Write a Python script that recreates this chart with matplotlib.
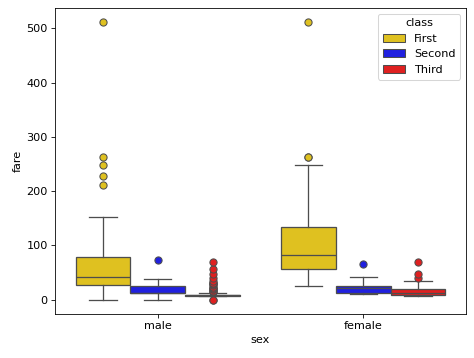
import matplotlib
matplotlib.use("Agg")
import matplotlib.pyplot as plt
from matplotlib.patches import Patch

# categories and hue levels
sexes = ["male", "female"]
classes = ["First", "Second", "Third"]
colors = ["#dfc120", "#2020df", "#df2020"]

# box statistics per (sex, class): q1, median, q3, whisker low, whisker high
q1 = {"male": [27.7, 12.5, 7.75], "female": [57.5, 13.0, 7.85]}
med = {"male": [41.26, 13.0, 7.9], "female": [82.66, 22.0, 12.47]}
q3 = {"male": [78.5, 26.0, 9.5], "female": [134.5, 26.0, 20.25]}
wlo = {"male": [0.0, 0.0, 6.24], "female": [25.93, 10.5, 6.75]}
whi = {"male": [151.55, 39.0, 12.47], "female": [247.52, 41.58, 34.38]}
fliers = {
    "male": [
        [512.33, 262.38, 247.52, 227.53, 211.5],
        [73.5],
        [0, 0, 14.5, 15.5, 16.1, 19.97, 20.21, 22.03, 24.15, 27.9, 29.13,
         31.28, 31.39, 34.38, 39.69, 46.9, 56.5, 69.55],
    ],
    "female": [
        [512.33, 263.0, 262.38],
        [65.0],
        [39.69, 46.9, 69.55],
    ],
}

line_gray = (0.3, 0.3, 0.3)
width = 0.8 / len(classes)

plt.rcParams["font.size"] = 11

fig = plt.figure(figsize=(474 / 74, 358 / 74), dpi=74)
ax = fig.add_axes([0.116, 0.124, 0.867, 0.854])

for i, sex in enumerate(sexes):
    for j, cls in enumerate(classes):
        pos = i - 0.4 + width * (j + 0.5)
        stats = [{
            "med": med[sex][j], "q1": q1[sex][j], "q3": q3[sex][j],
            "whislo": wlo[sex][j], "whishi": whi[sex][j],
            "fliers": fliers[sex][j],
        }]
        ax.bxp(
            stats, positions=[pos], widths=width, patch_artist=True,
            manage_ticks=False,
            boxprops=dict(facecolor=colors[j], edgecolor=line_gray, linewidth=1.25),
            medianprops=dict(color=line_gray, linewidth=1.25),
            whiskerprops=dict(color=line_gray, linewidth=1.25),
            capprops=dict(color=line_gray, linewidth=1.25),
            flierprops=dict(marker="o", markerfacecolor=colors[j],
                            markeredgecolor=line_gray, markersize=7,
                            linestyle="none"),
        )

ax.set_xlim(-0.5, 1.5)
ax.set_xticks(range(len(sexes)))
ax.set_xticklabels(sexes)
ax.set_xlabel("sex")
ax.set_ylabel("fare")

handles = [Patch(facecolor=c, edgecolor=line_gray, label=l) for c, l in zip(colors, classes)]
ax.legend(handles=handles, title="class", loc="upper right")

fig.savefig("out.png", dpi=74)
